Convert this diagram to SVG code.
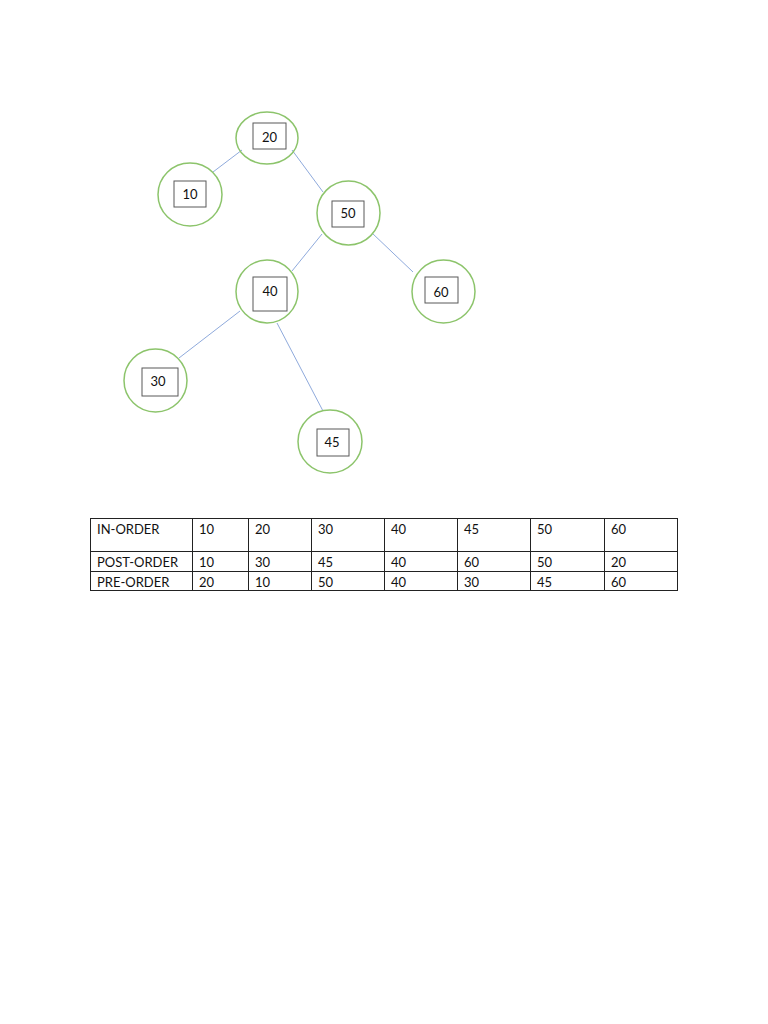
<svg xmlns="http://www.w3.org/2000/svg" width="768" height="1024" viewBox="0 0 768 1024">
<style>
.c{fill:none;stroke:#8CC46B;stroke-width:1.5}
.b{fill:#fff;stroke:#595959;stroke-width:1}
.t{font-family:Lato,"Open Sans","Liberation Sans",sans-serif;font-size:13px;fill:#111}
.e{stroke:#8FAADC;stroke-width:1;fill:none}
.g{stroke:#222;stroke-width:1;fill:none}
</style>
<rect width="768" height="1024" fill="#fff"/>
<g id="connectors">
<line class="e" x1="213" y1="172" x2="242" y2="150"/>
<line class="e" x1="292" y1="150" x2="323" y2="192"/>
<line class="e" x1="322" y1="234" x2="292" y2="271"/>
<line class="e" x1="372" y1="233" x2="413" y2="272"/>
<line class="e" x1="240" y1="311" x2="179" y2="358"/>
<line class="e" x1="277" y1="323" x2="323" y2="411"/>
</g>
<g id="n20"><ellipse class="c" cx="267" cy="138" rx="31" ry="26"/><rect class="b" x="253" y="123" width="33" height="26"/><text class="t" x="269.5" y="142" text-anchor="middle">20</text></g>
<g id="n10"><ellipse class="c" cx="190" cy="194.5" rx="32" ry="31.5"/><rect class="b" x="174" y="181" width="32" height="26"/><text class="t" x="190" y="199" text-anchor="middle">10</text></g>
<g id="n50"><ellipse class="c" cx="348.5" cy="213" rx="31.5" ry="32"/><rect class="b" x="332" y="201" width="32" height="26"/><text class="t" x="348" y="218" text-anchor="middle">50</text></g>
<g id="n40"><ellipse class="c" cx="267" cy="291.5" rx="31" ry="31.5"/><rect class="b" x="253" y="277" width="34" height="34"/><text class="t" x="270" y="296" text-anchor="middle">40</text></g>
<g id="n60"><ellipse class="c" cx="443.5" cy="291.5" rx="31.5" ry="31.5"/><rect class="b" x="425" y="277" width="33" height="26"/><text class="t" x="441" y="297" text-anchor="middle">60</text></g>
<g id="n30"><ellipse class="c" cx="155.5" cy="380.5" rx="31.5" ry="31.5"/><rect class="b" x="142" y="368" width="36" height="28"/><text class="t" x="158" y="386" text-anchor="middle">30</text></g>
<g id="n45"><ellipse class="c" cx="330" cy="441.5" rx="32" ry="31.5"/><rect class="b" x="317" y="429" width="32" height="27"/><text class="t" x="332" y="447" text-anchor="middle">45</text></g>
<g id="table">
<rect class="g" x="90.5" y="518.5" width="587" height="72"/>
<line class="g" x1="90" y1="551.5" x2="677" y2="551.5"/>
<line class="g" x1="90" y1="571.5" x2="677" y2="571.5"/>
<line class="g" x1="192.5" y1="518" x2="192.5" y2="591"/>
<line class="g" x1="248.5" y1="518" x2="248.5" y2="591"/>
<line class="g" x1="311.5" y1="518" x2="311.5" y2="591"/>
<line class="g" x1="384.5" y1="518" x2="384.5" y2="591"/>
<line class="g" x1="457.5" y1="518" x2="457.5" y2="591"/>
<line class="g" x1="530.5" y1="518" x2="530.5" y2="591"/>
<line class="g" x1="604.5" y1="518" x2="604.5" y2="591"/>
<g class="t">
<text x="97" y="534">IN-ORDER</text><text x="199" y="534">10</text><text x="255" y="534">20</text><text x="318" y="534">30</text><text x="391" y="534">40</text><text x="464" y="534">45</text><text x="537" y="534">50</text><text x="611" y="534">60</text>
<text x="97" y="567">POST-ORDER</text><text x="199" y="567">10</text><text x="255" y="567">30</text><text x="318" y="567">45</text><text x="391" y="567">40</text><text x="464" y="567">60</text><text x="537" y="567">50</text><text x="611" y="567">20</text>
<text x="97" y="587">PRE-ORDER</text><text x="199" y="587">20</text><text x="255" y="587">10</text><text x="318" y="587">50</text><text x="391" y="587">40</text><text x="464" y="587">30</text><text x="537" y="587">45</text><text x="611" y="587">60</text>
</g>
</g>
</svg>
